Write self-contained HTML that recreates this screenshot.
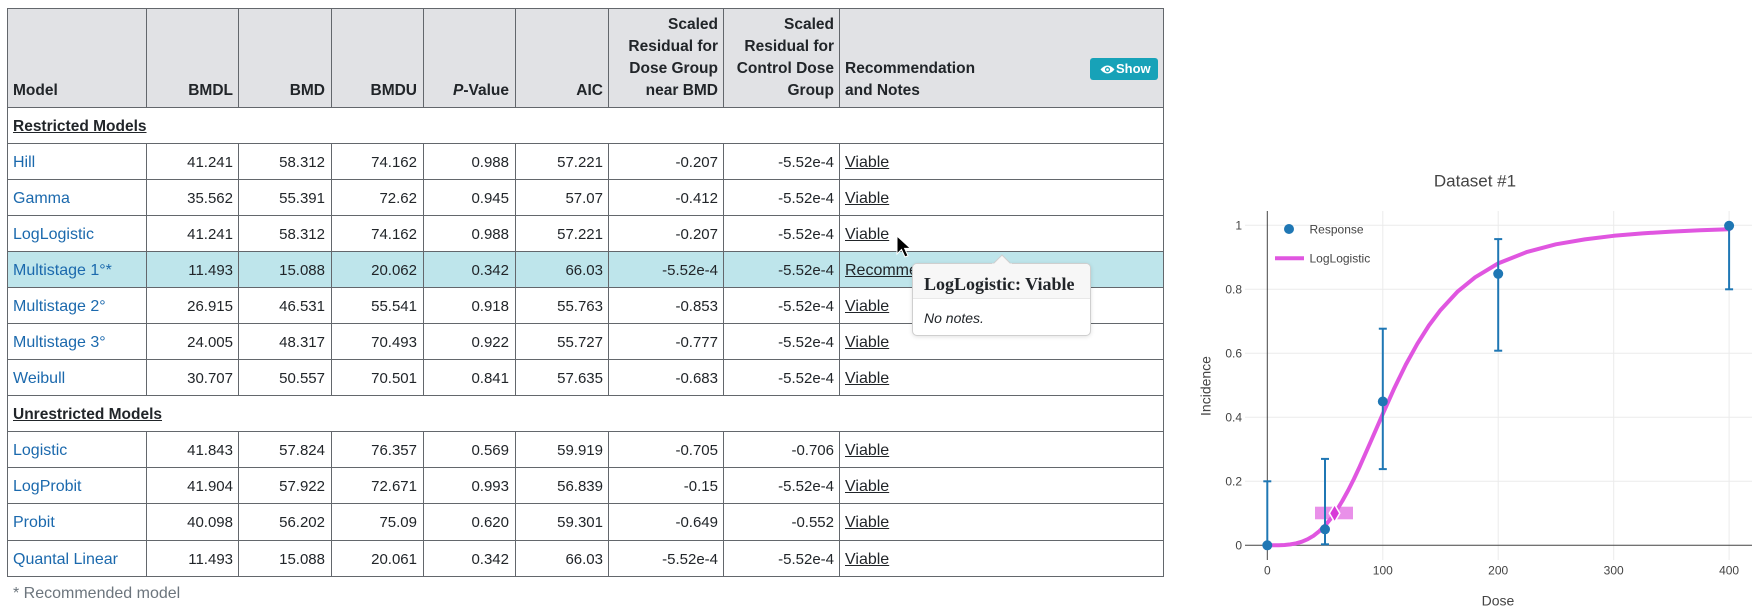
<!DOCTYPE html>
<html>
<head>
<meta charset="utf-8">
<style>
html,body{margin:0;padding:0;background:#fff;}
body{width:1762px;height:609px;position:relative;overflow:hidden;font-family:"Liberation Sans",sans-serif;color:#212529;}
.abs{position:absolute;}
.hl{position:absolute;left:7px;width:1157px;height:1px;background:#63676c;}
.vl{position:absolute;width:1px;background:#63676c;}
.hd{position:absolute;font-weight:bold;font-size:15.5px;line-height:22px;white-space:nowrap;color:#212529;}
.r{position:absolute;left:0;width:1762px;height:35px;font-size:16px;line-height:37px;}
.r div{position:absolute;top:0;white-space:nowrap;}
.c1{left:13px;color:#1b69ad;}
.c2{left:147px;width:86px;text-align:right;font-size:15px;}
.c3{left:239px;width:86px;text-align:right;font-size:15px;}
.c4{left:332px;width:85px;text-align:right;font-size:15px;}
.c5{left:424px;width:85px;text-align:right;font-size:15px;}
.c6{left:516px;width:87px;text-align:right;font-size:15px;}
.c7{left:609px;width:109px;text-align:right;font-size:15px;}
.c8{left:724px;width:110px;text-align:right;font-size:15px;}
.c9{left:845px;text-decoration:underline;}
.sec{left:13px;font-weight:bold;font-size:15.5px;text-decoration:underline;}
</style>
</head>
<body>

<!-- header background -->
<div class="abs" style="left:8px;top:9px;width:1155px;height:98px;background:#e1e2e5;"></div>
<!-- highlighted row -->
<div class="abs" style="left:8px;top:252px;width:1155px;height:35px;background:#bee5eb;"></div>

<!-- horizontal lines -->
<div class="hl" style="top:8px"></div>
<div class="hl" style="top:107px"></div>
<div class="hl" style="top:143px"></div>
<div class="hl" style="top:179px"></div>
<div class="hl" style="top:215px"></div>
<div class="hl" style="top:251px"></div>
<div class="hl" style="top:287px"></div>
<div class="hl" style="top:323px"></div>
<div class="hl" style="top:359px"></div>
<div class="hl" style="top:395px"></div>
<div class="hl" style="top:431px"></div>
<div class="hl" style="top:467px"></div>
<div class="hl" style="top:503px"></div>
<div class="hl" style="top:540px"></div>
<div class="hl" style="top:576px"></div>

<!-- outer verticals -->
<div class="vl" style="left:7px;top:8px;height:569px"></div>
<div class="vl" style="left:1163px;top:8px;height:569px"></div>
<!-- inner verticals: header -->
<div class="vl" style="left:146px;top:8px;height:99px"></div>
<div class="vl" style="left:238px;top:8px;height:99px"></div>
<div class="vl" style="left:331px;top:8px;height:99px"></div>
<div class="vl" style="left:423px;top:8px;height:99px"></div>
<div class="vl" style="left:515px;top:8px;height:99px"></div>
<div class="vl" style="left:608px;top:8px;height:99px"></div>
<div class="vl" style="left:723px;top:8px;height:99px"></div>
<div class="vl" style="left:839px;top:8px;height:99px"></div>
<!-- inner verticals: restricted block -->
<div class="vl" style="left:146px;top:143px;height:216px"></div>
<div class="vl" style="left:238px;top:143px;height:216px"></div>
<div class="vl" style="left:331px;top:143px;height:216px"></div>
<div class="vl" style="left:423px;top:143px;height:216px"></div>
<div class="vl" style="left:515px;top:143px;height:216px"></div>
<div class="vl" style="left:608px;top:143px;height:216px"></div>
<div class="vl" style="left:723px;top:143px;height:216px"></div>
<div class="vl" style="left:839px;top:143px;height:216px"></div>
<!-- weibull row belongs to restricted block too -->
<div class="vl" style="left:146px;top:359px;height:36px"></div>
<div class="vl" style="left:238px;top:359px;height:36px"></div>
<div class="vl" style="left:331px;top:359px;height:36px"></div>
<div class="vl" style="left:423px;top:359px;height:36px"></div>
<div class="vl" style="left:515px;top:359px;height:36px"></div>
<div class="vl" style="left:608px;top:359px;height:36px"></div>
<div class="vl" style="left:723px;top:359px;height:36px"></div>
<div class="vl" style="left:839px;top:359px;height:36px"></div>
<!-- inner verticals: unrestricted block -->
<div class="vl" style="left:146px;top:431px;height:145px"></div>
<div class="vl" style="left:238px;top:431px;height:145px"></div>
<div class="vl" style="left:331px;top:431px;height:145px"></div>
<div class="vl" style="left:423px;top:431px;height:145px"></div>
<div class="vl" style="left:515px;top:431px;height:145px"></div>
<div class="vl" style="left:608px;top:431px;height:145px"></div>
<div class="vl" style="left:723px;top:431px;height:145px"></div>
<div class="vl" style="left:839px;top:431px;height:145px"></div>

<!-- header text -->
<div class="hd" style="left:13px;top:80px;">Model</div>
<div class="hd" style="left:147px;width:86px;text-align:right;top:80px;">BMDL</div>
<div class="hd" style="left:239px;width:86px;text-align:right;top:80px;">BMD</div>
<div class="hd" style="left:332px;width:85px;text-align:right;top:80px;">BMDU</div>
<div class="hd" style="left:424px;width:85px;text-align:right;top:80px;"><i>P</i>-Value</div>
<div class="hd" style="left:516px;width:87px;text-align:right;top:80px;">AIC</div>
<div class="hd" style="left:609px;width:109px;text-align:right;top:14px;">Scaled<br>Residual for<br>Dose Group<br>near BMD</div>
<div class="hd" style="left:724px;width:110px;text-align:right;top:14px;">Scaled<br>Residual for<br>Control Dose<br>Group</div>
<div class="hd" style="left:845px;top:58px;">Recommendation<br>and Notes</div>

<!-- Show button -->
<div class="abs" style="left:1090px;top:58px;width:68px;height:22px;background:#17a2b8;border-radius:3px;color:#fff;font-weight:bold;font-size:13px;line-height:22px;">
  <svg class="abs" style="left:10px;top:6px" width="15" height="11" viewBox="0 0 15 11">
    <path d="M0.5 5.5 Q7.5 -2.5 14.5 5.5 Q7.5 13.5 0.5 5.5 Z" fill="#fff"/>
    <circle cx="7.5" cy="5.5" r="2.6" fill="#17a2b8"/>
    <circle cx="7.5" cy="5.5" r="1.3" fill="#fff"/>
  </svg>
  <span class="abs" style="left:26px;top:0;">Show</span>
</div>

<!-- section rows -->
<div class="r" style="top:108px"><div class="sec">Restricted Models</div></div>
<div class="r" style="top:396px"><div class="sec">Unrestricted Models</div></div>

<!-- data rows -->
<div class="r" style="top:144px"><div class="c1">Hill</div><div class="c2">41.241</div><div class="c3">58.312</div><div class="c4">74.162</div><div class="c5">0.988</div><div class="c6">57.221</div><div class="c7">-0.207</div><div class="c8">-5.52e-4</div><div class="c9">Viable</div></div>
<div class="r" style="top:180px"><div class="c1">Gamma</div><div class="c2">35.562</div><div class="c3">55.391</div><div class="c4">72.62</div><div class="c5">0.945</div><div class="c6">57.07</div><div class="c7">-0.412</div><div class="c8">-5.52e-4</div><div class="c9">Viable</div></div>
<div class="r" style="top:216px"><div class="c1">LogLogistic</div><div class="c2">41.241</div><div class="c3">58.312</div><div class="c4">74.162</div><div class="c5">0.988</div><div class="c6">57.221</div><div class="c7">-0.207</div><div class="c8">-5.52e-4</div><div class="c9">Viable</div></div>
<div class="r" style="top:252px"><div class="c1">Multistage 1°*</div><div class="c2">11.493</div><div class="c3">15.088</div><div class="c4">20.062</div><div class="c5">0.342</div><div class="c6">66.03</div><div class="c7">-5.52e-4</div><div class="c8">-5.52e-4</div><div class="c9">Recommended</div></div>
<div class="r" style="top:288px"><div class="c1">Multistage 2°</div><div class="c2">26.915</div><div class="c3">46.531</div><div class="c4">55.541</div><div class="c5">0.918</div><div class="c6">55.763</div><div class="c7">-0.853</div><div class="c8">-5.52e-4</div><div class="c9">Viable</div></div>
<div class="r" style="top:324px"><div class="c1">Multistage 3°</div><div class="c2">24.005</div><div class="c3">48.317</div><div class="c4">70.493</div><div class="c5">0.922</div><div class="c6">55.727</div><div class="c7">-0.777</div><div class="c8">-5.52e-4</div><div class="c9">Viable</div></div>
<div class="r" style="top:360px"><div class="c1">Weibull</div><div class="c2">30.707</div><div class="c3">50.557</div><div class="c4">70.501</div><div class="c5">0.841</div><div class="c6">57.635</div><div class="c7">-0.683</div><div class="c8">-5.52e-4</div><div class="c9">Viable</div></div>
<div class="r" style="top:432px"><div class="c1">Logistic</div><div class="c2">41.843</div><div class="c3">57.824</div><div class="c4">76.357</div><div class="c5">0.569</div><div class="c6">59.919</div><div class="c7">-0.705</div><div class="c8">-0.706</div><div class="c9">Viable</div></div>
<div class="r" style="top:468px"><div class="c1">LogProbit</div><div class="c2">41.904</div><div class="c3">57.922</div><div class="c4">72.671</div><div class="c5">0.993</div><div class="c6">56.839</div><div class="c7">-0.15</div><div class="c8">-5.52e-4</div><div class="c9">Viable</div></div>
<div class="r" style="top:504px"><div class="c1">Probit</div><div class="c2">40.098</div><div class="c3">56.202</div><div class="c4">75.09</div><div class="c5">0.620</div><div class="c6">59.301</div><div class="c7">-0.649</div><div class="c8">-0.552</div><div class="c9">Viable</div></div>
<div class="r" style="top:541px"><div class="c1">Quantal Linear</div><div class="c2">11.493</div><div class="c3">15.088</div><div class="c4">20.061</div><div class="c5">0.342</div><div class="c6">66.03</div><div class="c7">-5.52e-4</div><div class="c8">-5.52e-4</div><div class="c9">Viable</div></div>

<!-- footnote -->
<div class="abs" style="left:13px;top:582px;font-size:16px;line-height:24px;color:#6c757d;white-space:nowrap;">* Recommended model</div>

<!-- tooltip -->
<div class="abs" style="left:912px;top:263px;width:177px;height:71px;background:#fff;border:1px solid #cfcfcf;border-radius:5px;box-shadow:0 1px 4px rgba(0,0,0,0.12);overflow:hidden;">
  <div class="abs" style="left:0;top:0;width:177px;height:34px;background:#f7f7f7;border-bottom:1px solid #e8e8e8;"></div>
  <div class="abs" style="left:11px;top:9px;font-family:'Liberation Serif',serif;font-weight:bold;font-size:18px;line-height:22px;white-space:nowrap;color:#212529;">LogLogistic: Viable</div>
  <div class="abs" style="left:11px;top:45px;font-style:italic;font-size:14px;line-height:18px;white-space:nowrap;color:#212529;">No notes.</div>
</div>
<svg class="abs" style="left:990px;top:253px" width="24" height="12" viewBox="0 0 24 12">
  <polygon points="3,11 12,2 21,11" fill="#f7f7f7" stroke="#cfcfcf" stroke-width="1"/>
  <rect x="2" y="10.5" width="20" height="2" fill="#f7f7f7"/>
</svg>

<!-- chart -->
<svg class="abs" style="left:0;top:0" width="1762" height="609" viewBox="0 0 1762 609" font-family="Liberation Sans, sans-serif">
  <!-- gridlines -->
  <g stroke="#ebebeb" stroke-width="1">
    <line x1="1382.8" y1="211" x2="1382.8" y2="560"/>
    <line x1="1498.2" y1="211" x2="1498.2" y2="560"/>
    <line x1="1613.7" y1="211" x2="1613.7" y2="560"/>
    <line x1="1729.1" y1="211" x2="1729.1" y2="560"/>
    <line x1="1245" y1="481.3" x2="1752" y2="481.3"/>
    <line x1="1245" y1="417.3" x2="1752" y2="417.3"/>
    <line x1="1245" y1="353.3" x2="1752" y2="353.3"/>
    <line x1="1245" y1="289.3" x2="1752" y2="289.3"/>
    <line x1="1245" y1="225.3" x2="1752" y2="225.3"/>
  </g>
  <!-- zero lines -->
  <line x1="1267.3" y1="211" x2="1267.3" y2="560" stroke="#444" stroke-width="1"/>
  <line x1="1245" y1="545.3" x2="1752" y2="545.3" stroke="#444" stroke-width="1"/>

  <!-- y tick labels -->
  <g font-size="12" fill="#444" text-anchor="end">
    <text x="1242" y="549.5">0</text>
    <text x="1242" y="485.5">0.2</text>
    <text x="1242" y="421.5">0.4</text>
    <text x="1242" y="357.5">0.6</text>
    <text x="1242" y="293.5">0.8</text>
    <text x="1242" y="229.5">1</text>
  </g>
  <!-- x tick labels -->
  <g font-size="12" fill="#444" text-anchor="middle">
    <text x="1267.3" y="574.5">0</text>
    <text x="1382.8" y="574.5">100</text>
    <text x="1498.2" y="574.5">200</text>
    <text x="1613.7" y="574.5">300</text>
    <text x="1729.1" y="574.5">400</text>
  </g>
  <text x="1498" y="605.5" font-size="14" fill="#444" text-anchor="middle">Dose</text>
  <text transform="translate(1210.5,386) rotate(-90)" x="0" y="0" font-size="14" fill="#444" text-anchor="middle">Incidence</text>
  <text x="1475" y="186.7" font-size="17" fill="#444" text-anchor="middle">Dataset #1</text>

  <!-- BMDL-BMDU bar -->
  <rect x="1315" y="506.7" width="38" height="12.6" fill="#dd55dd" fill-opacity="0.65"/>

  <!-- curve -->
  <polyline fill="none" stroke="#e056e0" stroke-width="4" stroke-linejoin="round" stroke-linecap="round"
    points="1267.3,545.3 1273.1,545.3 1278.8,545.2 1284.6,545.0 1290.4,544.4 1296.2,543.3 1301.9,541.7 1307.7,539.2 1313.5,535.8 1319.3,531.2 1325.0,525.6 1330.8,518.6 1336.6,510.4 1342.3,501.0 1348.1,490.5 1353.9,479.0 1359.7,466.6 1371.2,440.5 1382.8,413.9 1394.3,388.2 1405.8,364.6 1417.4,343.7 1428.9,325.5 1440.5,310.1 1457.8,291.4 1475.1,277.3 1498.2,263.4 1527.1,251.9 1555.9,244.3 1584.8,239.4 1613.7,235.8 1642.5,233.4 1671.4,231.6 1700.2,230.3 1729.1,229.3"/>

  <!-- error bars -->
  <g stroke="#1f77b4" stroke-width="2" fill="none">
    <line x1="1267.3" y1="545.3" x2="1267.3" y2="481.3"/>
    <line x1="1263.3" y1="481.3" x2="1271.3" y2="481.3"/>
    <line x1="1263.3" y1="545.3" x2="1271.3" y2="545.3"/>

    <line x1="1325" y1="545.3" x2="1325" y2="458.9"/>
    <line x1="1321" y1="458.9" x2="1329" y2="458.9"/>
    <line x1="1321" y1="544.3" x2="1329" y2="544.3"/>

    <line x1="1382.8" y1="469.1" x2="1382.8" y2="328.7"/>
    <line x1="1378.8" y1="469.1" x2="1386.8" y2="469.1"/>
    <line x1="1378.8" y1="328.7" x2="1386.8" y2="328.7"/>

    <line x1="1498.2" y1="350.7" x2="1498.2" y2="239.1"/>
    <line x1="1494.2" y1="350.7" x2="1502.2" y2="350.7"/>
    <line x1="1494.2" y1="239.1" x2="1502.2" y2="239.1"/>

    <line x1="1729.1" y1="289.3" x2="1729.1" y2="225.3"/>
    <line x1="1725.1" y1="289.3" x2="1733.1" y2="289.3"/>
    <line x1="1725.1" y1="225.3" x2="1733.1" y2="225.3"/>
  </g>
  <!-- markers -->
  <g fill="#1f77b4">
    <circle cx="1267.3" cy="545.3" r="5"/>
    <circle cx="1325" cy="529.3" r="5"/>
    <circle cx="1382.8" cy="401.5" r="5"/>
    <circle cx="1498.2" cy="273.8" r="5"/>
    <circle cx="1729.1" cy="225.8" r="5"/>
  </g>
  <!-- BMD diamond -->
  <polygon points="1334.6,504.5 1339.8,513.3 1334.6,522.1 1329.4,513.3" fill="#d83ad8" stroke="#fff" stroke-width="1.5"/>

  <!-- legend -->
  <circle cx="1289" cy="229" r="5" fill="#1f77b4"/>
  <text x="1309.5" y="233.3" font-size="12" fill="#444">Response</text>
  <line x1="1275" y1="258.3" x2="1304" y2="258.3" stroke="#e056e0" stroke-width="4"/>
  <text x="1309.5" y="262.6" font-size="12" fill="#444">LogLogistic</text>
</svg>

<!-- cursor -->
<svg class="abs" style="left:890px;top:230px" width="30" height="34" viewBox="0 0 30 34">
  <polygon points="7,6 7,24 11.5,19.5 15,27 18,25.7 14.6,18.4 20.5,18.4" fill="#000" stroke="#fff" stroke-width="1"/>
</svg>

</body>
</html>
